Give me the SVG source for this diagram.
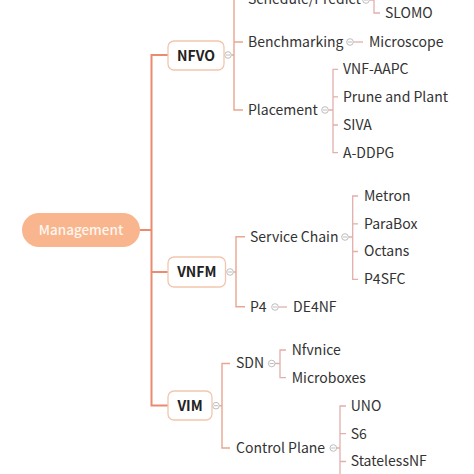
<svg xmlns="http://www.w3.org/2000/svg" width="474" height="474" viewBox="0 0 474 474">
<style>
.t{font-family:"Noto Sans CJK SC","Noto Sans",sans-serif;font-size:14px;fill:#333}
.b{font-family:"Noto Sans CJK SC","Noto Sans",sans-serif;font-size:14px;font-weight:bold;fill:#222;text-anchor:middle}
.box{fill:#fff;stroke:#f2c6ae;stroke-width:1.3}
.l1{fill:none;stroke:#ea8a6e;stroke-width:2}
.l2{fill:none;stroke:#e9a690;stroke-width:1.4}
.l3{fill:none;stroke:#e2afab;stroke-width:1.3}
.c{fill:#fff;stroke:#bdbdbd;stroke-width:1}
</style>
<defs>
<g id="col"><circle class="c" r="3.3"/><path d="M-2,0H2" stroke="#bdbdbd" stroke-width="1"/></g>
</defs>
<rect width="474" height="474" fill="#fff"/>
<g id="connectors">
<path class="l1" d="M140,230H151.5M168,55H151.5V405.5H168M151.5,272H168"/>
<path class="l2" d="M231.5,55H234M243,-1H234V110H243M234,42H243"/>
<path class="l3" d="M369.5,0H374M380,-15H374V13H380"/>
<path class="l3" d="M353.5,42H363"/>
<path class="l3" d="M328.5,110H333M338,69.3H333V152.7H338M333,96.9H338M333,125H338"/>
<path class="l2" d="M233.5,272H236M245,236.7H236V306.7H245"/>
<path class="l3" d="M348.5,237H352.7M358,196H352.7V279.3H358M352.7,223.8H358M352.7,251.5H358"/>
<path class="l3" d="M278.5,307H287"/>
<path class="l2" d="M219.5,405.7H222M230,363.5H222V448H230"/>
<path class="l3" d="M275,363.5H280M286,350H280V377.7H286"/>
<path class="l3" d="M336.8,448H340M346,406H340V480M340,433.7H346M340,461.5H346"/>
<use href="#col" x="228" y="55"/>
<use href="#col" x="366" y="0"/>
<use href="#col" x="350" y="42"/>
<use href="#col" x="325" y="110"/>
<use href="#col" x="230" y="272"/>
<use href="#col" x="345" y="237"/>
<use href="#col" x="275" y="307"/>
<use href="#col" x="216" y="405.7"/>
<use href="#col" x="271.7" y="363.5"/>
<use href="#col" x="333.3" y="448"/>
</g>
<g id="management">
<rect x="22" y="213" width="118" height="34" rx="17" fill="#f9b58d"/>
<text x="81" y="235" text-anchor="middle" style="font-family:'Noto Sans CJK SC','Noto Sans',sans-serif;font-size:13.5px;font-weight:500;fill:#fff6ee">Management</text>
</g>
<g id="nfvo"><rect class="box" x="168" y="41" width="56" height="29" rx="6"/><text class="b" x="196" y="60.5">NFVO</text></g>
<g id="vnfm"><rect class="box" x="168" y="257" width="57.5" height="30" rx="6"/><text class="b" x="196.8" y="277">VNFM</text></g>
<g id="vim"><rect class="box" x="168" y="391" width="44" height="29" rx="6"/><text class="b" x="190" y="410.7">VIM</text></g>
<g id="schedule"><text class="t" x="248" y="4">Schedule/Predict</text></g>
<g id="slomo"><text class="t" x="385" y="18">SLOMO</text></g>
<g id="benchmarking"><text class="t" x="248" y="46.5">Benchmarking</text></g>
<g id="microscope"><text class="t" x="369" y="46.5">Microscope</text></g>
<g id="placement"><text class="t" x="248" y="115">Placement</text></g>
<g id="vnf-aapc"><text class="t" x="343" y="74">VNF-AAPC</text></g>
<g id="prune"><text class="t" x="343" y="101.5">Prune and Plant</text></g>
<g id="siva"><text class="t" x="343" y="129.5">SIVA</text></g>
<g id="a-ddpg"><text class="t" x="343" y="157.5">A-DDPG</text></g>
<g id="service-chain"><text class="t" x="250" y="241.5">Service Chain</text></g>
<g id="metron"><text class="t" x="364" y="200.5">Metron</text></g>
<g id="parabox"><text class="t" x="364" y="228.5">ParaBox</text></g>
<g id="octans"><text class="t" x="364" y="256">Octans</text></g>
<g id="p4sfc"><text class="t" x="364" y="284">P4SFC</text></g>
<g id="p4"><text class="t" x="250" y="311.5">P4</text></g>
<g id="de4nf"><text class="t" x="293" y="311.5">DE4NF</text></g>
<g id="sdn"><text class="t" x="236" y="368">SDN</text></g>
<g id="nfvnice"><text class="t" x="291.7" y="354.5">Nfvnice</text></g>
<g id="microboxes"><text class="t" x="291.7" y="382.5">Microboxes</text></g>
<g id="control-plane"><text class="t" x="236" y="452.5">Control Plane</text></g>
<g id="uno"><text class="t" x="350.7" y="410.5">UNO</text></g>
<g id="s6"><text class="t" x="350.7" y="438.5">S6</text></g>
<g id="statelessnf"><text class="t" x="350.7" y="466">StatelessNF</text></g>
</svg>
